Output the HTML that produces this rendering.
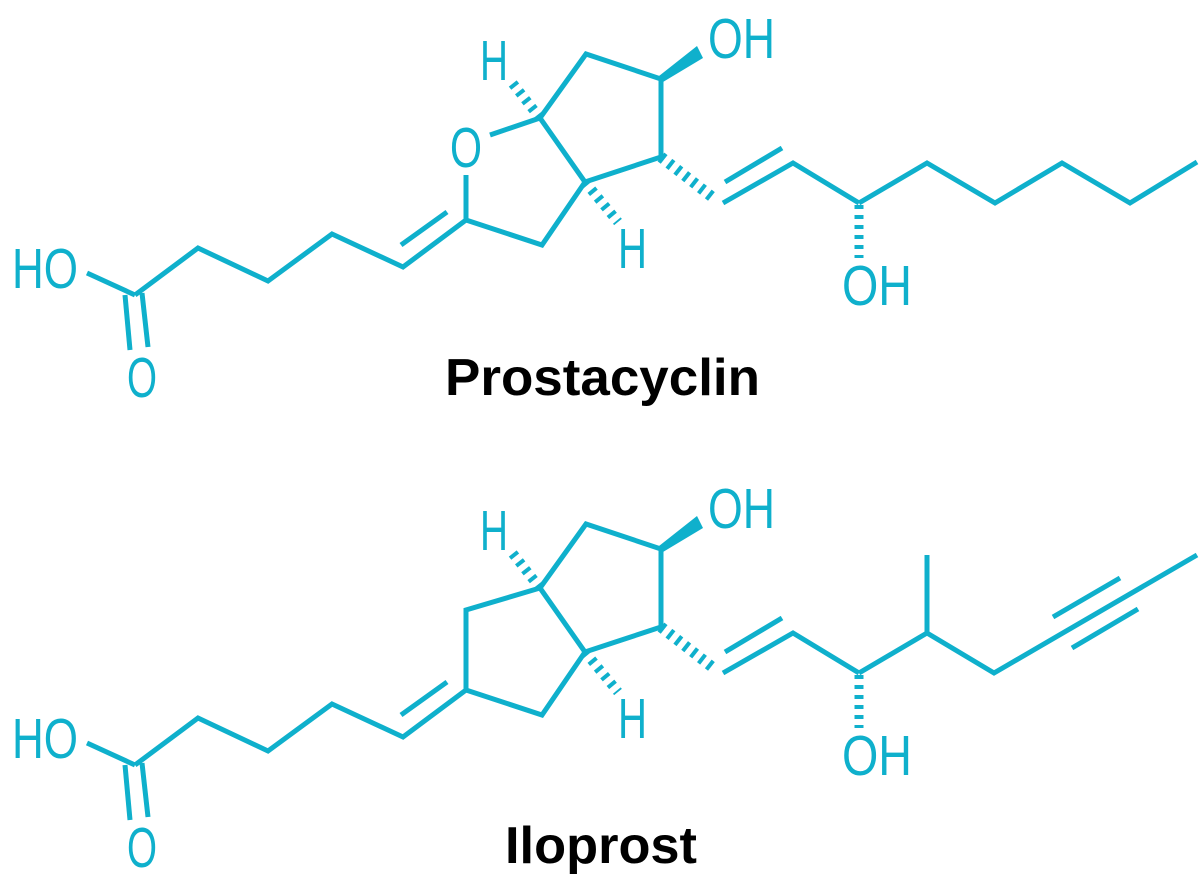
<!DOCTYPE html>
<html><head><meta charset="utf-8"><style>
html,body{margin:0;padding:0;background:#fff;}
svg{display:block}
</style></head><body>
<svg width="1200" height="884" viewBox="0 0 1200 884" xmlns="http://www.w3.org/2000/svg">
<defs>
<g id="common" stroke="#0fb0cc" stroke-width="5" fill="none" stroke-linejoin="miter" stroke-linecap="butt">
  <line x1="87" y1="273" x2="135" y2="295"/>
  <line x1="125" y1="295" x2="130" y2="350"/>
  <line x1="142" y1="293" x2="148" y2="347"/>
  <polyline points="135,295 198,248 268,281 332,234 403,267 466,220"/>
  <line x1="401" y1="245" x2="447" y2="212"/>
  <polyline points="466,220 542,245 585,182 540,118"/>
  <polyline points="540,118 586,54 661,79 661,157 585,182"/>
  <polyline points="723,203 793,163 859,203"/>
  <line x1="725" y1="182" x2="782" y2="148"/>
  <line x1="540" y1="118" x2="510" y2="80" stroke-width="10" stroke-dasharray="4 6"/>
  <line x1="585" y1="182" x2="618" y2="222" stroke-width="10" stroke-dasharray="4 6"/>
  <line x1="661" y1="157" x2="716" y2="200" stroke-width="11" stroke-dasharray="4 6"/>
  <line x1="859" y1="205" x2="859" y2="258" stroke-width="9" stroke-dasharray="4 6"/>
</g>
</defs>

<use href="#common"/>
<g stroke="#0fb0cc" stroke-width="5" fill="none">
  <line x1="466" y1="220" x2="466" y2="175"/>
  <line x1="540" y1="118" x2="490" y2="135"/>
  <polyline points="859,203 927,163 995,203 1062,163 1130,203 1197,162"/>
</g>
<polygon points="659,76 663,82 703,58 697,46" fill="#0fb0cc"/>

<g fill="#0fb0cc" font-family="'Liberation Sans Narrow','Liberation Sans',sans-serif" font-size="57">
  <text x="12" y="288" textLength="66" lengthAdjust="spacingAndGlyphs">HO</text>
  <text x="127" y="397" textLength="30" lengthAdjust="spacingAndGlyphs">O</text>
  <text x="450" y="167" textLength="32" lengthAdjust="spacingAndGlyphs">O</text>
  <text x="480" y="80" textLength="28" lengthAdjust="spacingAndGlyphs">H</text>
  <text x="618" y="268" textLength="29" lengthAdjust="spacingAndGlyphs">H</text>
  <text x="708" y="58" textLength="67" lengthAdjust="spacingAndGlyphs">OH</text>
  <text x="842" y="305" textLength="70" lengthAdjust="spacingAndGlyphs">OH</text>
</g>
<text x="445" y="395" font-family="'Liberation Sans',sans-serif" font-weight="bold" font-size="52" fill="#000" textLength="315" lengthAdjust="spacingAndGlyphs">Prostacyclin</text>

<g transform="translate(0,470)">
  <use href="#common"/>
  <g stroke="#0fb0cc" stroke-width="5" fill="none">
    <polyline points="466,220 466,140 540,118"/>
    <polyline points="859,203 927,163 994,203 1197,85"/>
    <line x1="927" y1="163" x2="927" y2="85"/>
    <line x1="1053" y1="147" x2="1120" y2="108"/>
    <line x1="1072" y1="178" x2="1138" y2="139"/>
  </g>
  <polygon points="659,76 663,82 703,58 697,46" fill="#0fb0cc"/>
  <g fill="#0fb0cc" font-family="'Liberation Sans Narrow','Liberation Sans',sans-serif" font-size="57">
    <text x="12" y="288" textLength="66" lengthAdjust="spacingAndGlyphs">HO</text>
    <text x="127" y="397" textLength="30" lengthAdjust="spacingAndGlyphs">O</text>
    <text x="480" y="80" textLength="28" lengthAdjust="spacingAndGlyphs">H</text>
    <text x="618" y="268" textLength="29" lengthAdjust="spacingAndGlyphs">H</text>
    <text x="708" y="58" textLength="67" lengthAdjust="spacingAndGlyphs">OH</text>
    <text x="842" y="305" textLength="70" lengthAdjust="spacingAndGlyphs">OH</text>
  </g>
</g>
<text x="505" y="863" font-family="'Liberation Sans',sans-serif" font-weight="bold" font-size="52" fill="#000" textLength="192" lengthAdjust="spacingAndGlyphs">Iloprost</text>
</svg>
</body></html>
